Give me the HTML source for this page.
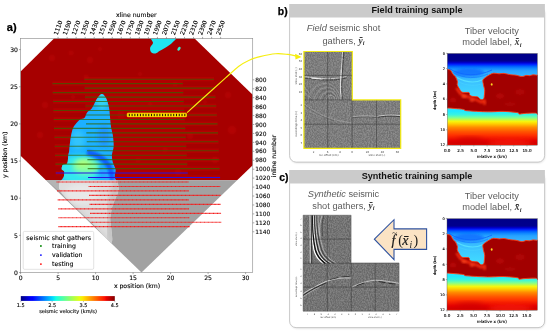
<!DOCTYPE html>
<html lang="en"><head><meta charset="utf-8"><title>Seismic training samples figure</title>
<style>html,body{margin:0;padding:0;background:#fff;overflow:hidden}svg{display:block}text{white-space:pre}</style>
</head><body>
<svg width="550" height="335" viewBox="0 0 550 335">
<defs>
<clipPath id="axc"><rect x="20.6" y="38.5" width="232.1" height="234.0"/></clipPath>
<clipPath id="surv"><path d="M54.0,38.5 L194.6,38.5 L252.7,94.8 L252.7,165.2 L141.5,272.5 L20.6,155.8 L20.6,71.5Z"/></clipPath>
<clipPath id="saltc"><path d="M101.5,94.1 C100.3,94.4 98.9,96.3 97.7,97.8 C96.5,99.3 95.6,101.4 94.6,103.2 C93.6,105.0 92.7,107.2 91.5,108.7 C90.3,110.2 88.5,110.8 87.3,112.3 C86.1,113.8 85.8,116.6 84.6,117.8 C83.4,119.0 81.5,118.5 80.0,119.6 C78.5,120.7 76.7,122.7 75.5,124.2 C74.3,125.7 73.5,126.7 72.8,128.7 C72.0,130.7 71.5,133.3 71.0,136.0 C70.5,138.7 70.0,142.4 69.7,145.0 C69.4,147.6 69.3,149.7 69.1,151.4 C68.8,153.1 68.5,153.0 68.2,155.0 C67.9,157.0 68.2,161.5 67.3,163.2 C66.4,164.9 63.6,163.9 62.7,165.0 C61.8,166.1 61.5,168.5 61.8,169.6 C62.0,170.7 63.9,170.2 64.2,171.4 C64.5,172.6 64.2,175.4 63.7,176.9 C63.2,178.4 61.6,179.7 60.9,180.5 C60.1,181.3 59.6,180.8 59.2,182.0 C58.8,183.2 58.2,186.1 58.6,188.0 C59.0,189.9 59.1,190.3 61.8,193.5 C64.5,196.7 69.7,201.8 75.0,207.0 C80.3,212.2 87.9,219.0 93.9,225.0 C99.9,231.0 108.2,243.0 111.0,243.0 C113.8,243.0 111.1,229.1 111.0,225.0 C110.9,220.9 110.1,221.6 110.3,218.7 C110.5,215.8 111.2,211.0 112.0,207.7 C112.8,204.4 114.2,201.9 115.3,199.0 C116.4,196.1 118.2,193.3 118.6,190.3 C119.0,187.3 117.8,182.6 117.5,181.0 C117.2,179.4 117.0,181.2 116.5,180.5 C116.0,179.8 114.9,178.7 114.7,176.9 C114.5,175.1 115.9,172.0 115.6,169.6 C115.3,167.2 113.4,164.7 112.8,162.3 C112.2,159.9 111.8,157.7 111.9,155.0 C112.1,152.3 113.6,149.2 113.7,145.9 C113.8,142.6 113.2,138.2 112.8,135.0 C112.3,131.8 111.5,129.8 111.0,126.9 C110.5,124.0 110.4,120.8 110.1,117.8 C109.8,114.8 109.7,111.4 109.2,108.7 C108.8,106.0 108.2,103.5 107.4,101.4 C106.6,99.3 105.6,97.2 104.6,96.0 C103.6,94.8 102.7,93.8 101.5,94.1Z"/></clipPath>
<filter id="b1" x="-30%" y="-30%" width="160%" height="160%"><feGaussianBlur stdDeviation="1.2"/></filter>
<filter id="b2" x="-30%" y="-30%" width="160%" height="160%"><feGaussianBlur stdDeviation="2.5"/></filter>
<filter id="b4" x="-30%" y="-30%" width="160%" height="160%"><feGaussianBlur stdDeviation="4"/></filter>
<filter id="b05" x="-30%" y="-30%" width="160%" height="160%"><feGaussianBlur stdDeviation="0.5"/></filter>
<linearGradient id="jet" x1="0" x2="1" y1="0" y2="0"><stop offset="0" stop-color="#000080"/><stop offset="0.11" stop-color="#0000ff"/><stop offset="0.125" stop-color="#0000ff"/><stop offset="0.34" stop-color="#00dcfe"/><stop offset="0.375" stop-color="#16ffe1"/><stop offset="0.5" stop-color="#7dff7a"/><stop offset="0.625" stop-color="#e4ff13"/><stop offset="0.66" stop-color="#ffe600"/><stop offset="0.89" stop-color="#ff1300"/><stop offset="0.91" stop-color="#e80000"/><stop offset="1" stop-color="#800000"/></linearGradient>
<filter id="nz" x="0" y="0" width="100%" height="100%" color-interpolation-filters="sRGB"><feTurbulence type="fractalNoise" baseFrequency="0.95 0.6" numOctaves="2" seed="3" result="t"/><feColorMatrix in="t" type="matrix" values="2.6 0 0 0 -0.82  2.6 0 0 0 -0.82  2.6 0 0 0 -0.82  0 0 0 0 1"/></filter>
</defs>
<rect x="0" y="0" width="550" height="335" fill="#fff"/>
<g clip-path="url(#surv)">
<rect x="20" y="38" width="234" height="142.2" fill="#a60000"/>
<rect x="20" y="180.2" width="234" height="93" fill="#a2a2a2"/>
<circle cx="52" cy="58" r="3" fill="#d01010" opacity="0.3" filter="url(#b1)"/>
<circle cx="71" cy="53" r="2.5" fill="#d01010" opacity="0.3" filter="url(#b1)"/>
<circle cx="90" cy="60" r="3" fill="#d01010" opacity="0.3" filter="url(#b1)"/>
<circle cx="100" cy="49" r="2" fill="#d01010" opacity="0.3" filter="url(#b1)"/>
<circle cx="73" cy="97" r="2" fill="#d01010" opacity="0.3" filter="url(#b1)"/>
<circle cx="121" cy="115" r="3.5" fill="#d01010" opacity="0.3" filter="url(#b1)"/>
<circle cx="150" cy="104" r="2" fill="#d01010" opacity="0.3" filter="url(#b1)"/>
<circle cx="175" cy="84" r="2.5" fill="#d01010" opacity="0.3" filter="url(#b1)"/>
<circle cx="205" cy="102" r="2" fill="#d01010" opacity="0.3" filter="url(#b1)"/>
<circle cx="190" cy="136" r="3" fill="#d01010" opacity="0.3" filter="url(#b1)"/>
<circle cx="165" cy="150" r="2.5" fill="#d01010" opacity="0.3" filter="url(#b1)"/>
<circle cx="232" cy="130" r="4" fill="#d01010" opacity="0.3" filter="url(#b1)"/>
<circle cx="215" cy="160" r="3" fill="#d01010" opacity="0.3" filter="url(#b1)"/>
<circle cx="45" cy="105" r="3" fill="#d01010" opacity="0.3" filter="url(#b1)"/>
<circle cx="40" cy="135" r="3" fill="#d01010" opacity="0.3" filter="url(#b1)"/>
<circle cx="138" cy="160" r="2.5" fill="#d01010" opacity="0.3" filter="url(#b1)"/>
<circle cx="178" cy="172" r="3" fill="#d01010" opacity="0.3" filter="url(#b1)"/>
<circle cx="140" cy="74" r="2" fill="#d01010" opacity="0.3" filter="url(#b1)"/>
<circle cx="86" cy="77" r="2.5" fill="#d01010" opacity="0.3" filter="url(#b1)"/>
<circle cx="228" cy="95" r="3" fill="#d01010" opacity="0.3" filter="url(#b1)"/>
<g filter="url(#b05)">
<line x1="84.3" y1="79.20" x2="214.0" y2="79.20" stroke="#d60000" stroke-opacity="0.3" stroke-width="4.3"/>
<line x1="52.4" y1="83.67" x2="182.8" y2="83.67" stroke="#d60000" stroke-opacity="0.3" stroke-width="4.3"/>
<line x1="84.6" y1="88.14" x2="214.7" y2="88.14" stroke="#d60000" stroke-opacity="0.3" stroke-width="4.3"/>
<line x1="52.7" y1="92.61" x2="183.3" y2="92.61" stroke="#d60000" stroke-opacity="0.3" stroke-width="4.3"/>
<line x1="85.0" y1="97.08" x2="215.4" y2="97.08" stroke="#d60000" stroke-opacity="0.3" stroke-width="4.3"/>
<line x1="53.1" y1="101.55" x2="183.8" y2="101.55" stroke="#d60000" stroke-opacity="0.3" stroke-width="4.3"/>
<line x1="85.3" y1="106.02" x2="216.2" y2="106.02" stroke="#d60000" stroke-opacity="0.3" stroke-width="4.3"/>
<line x1="53.4" y1="110.49" x2="184.3" y2="110.49" stroke="#d60000" stroke-opacity="0.3" stroke-width="4.3"/>
<line x1="85.7" y1="114.96" x2="216.9" y2="114.96" stroke="#d60000" stroke-opacity="0.3" stroke-width="4.3"/>
<line x1="53.7" y1="119.43" x2="184.8" y2="119.43" stroke="#d60000" stroke-opacity="0.3" stroke-width="4.3"/>
<line x1="86.0" y1="123.90" x2="217.6" y2="123.90" stroke="#d60000" stroke-opacity="0.3" stroke-width="4.3"/>
<line x1="54.0" y1="128.37" x2="185.3" y2="128.37" stroke="#d60000" stroke-opacity="0.3" stroke-width="4.3"/>
<line x1="86.3" y1="132.84" x2="218.0" y2="132.84" stroke="#d60000" stroke-opacity="0.3" stroke-width="4.3"/>
<line x1="54.4" y1="137.31" x2="185.8" y2="137.31" stroke="#d60000" stroke-opacity="0.3" stroke-width="4.3"/>
<line x1="86.7" y1="141.78" x2="218.4" y2="141.78" stroke="#d60000" stroke-opacity="0.3" stroke-width="4.3"/>
<line x1="54.7" y1="146.25" x2="186.3" y2="146.25" stroke="#d60000" stroke-opacity="0.3" stroke-width="4.3"/>
<line x1="87.0" y1="150.72" x2="218.8" y2="150.72" stroke="#d60000" stroke-opacity="0.3" stroke-width="4.3"/>
<line x1="55.0" y1="155.19" x2="186.8" y2="155.19" stroke="#d60000" stroke-opacity="0.3" stroke-width="4.3"/>
<line x1="87.4" y1="159.66" x2="219.2" y2="159.66" stroke="#d60000" stroke-opacity="0.3" stroke-width="4.3"/>
<line x1="55.4" y1="164.13" x2="187.3" y2="164.13" stroke="#d60000" stroke-opacity="0.3" stroke-width="4.3"/>
<line x1="87.7" y1="168.60" x2="219.6" y2="168.60" stroke="#d60000" stroke-opacity="0.3" stroke-width="4.3"/>
<line x1="55.7" y1="173.07" x2="187.8" y2="173.07" stroke="#d60000" stroke-opacity="0.3" stroke-width="4.3"/>
<line x1="88.0" y1="177.54" x2="220.1" y2="177.54" stroke="#d60000" stroke-opacity="0.3" stroke-width="4.3"/>
</g>
</g>
<g clip-path="url(#surv)"><g clip-path="url(#saltc)">
<rect x="55" y="90" width="70" height="90.2" fill="#1cb0ff"/>
<ellipse cx="102" cy="100" rx="7" ry="9" fill="#30d4f6" filter="url(#b2)"/>
<ellipse cx="104" cy="136" rx="6" ry="11" fill="#1c92ff" filter="url(#b2)"/>
<ellipse cx="78" cy="140" rx="7" ry="10" fill="#30c4fc" filter="url(#b2)"/>
<ellipse cx="78" cy="170" rx="21" ry="15" fill="#30e8f0" filter="url(#b2)"/>
<ellipse cx="85.5" cy="166.5" rx="13" ry="8" fill="#80ffa8" filter="url(#b2)"/>
<ellipse cx="83" cy="163.5" rx="7" ry="3.5" fill="#b4ff78" filter="url(#b2)"/>
<path d="M87,152.5 C98,154 108,161 111,171 L113,183" stroke="#1060ff" stroke-width="5.5" fill="none" filter="url(#b1)"/>
<path d="M100,168 C104,172 106,177 107,183" stroke="#28a8ff" stroke-width="5" fill="none" filter="url(#b1)"/>
<rect x="40" y="180.2" width="90" height="70" fill="#dedede"/>
<path d="M118,181 L112,205 L110,245" stroke="#c4c4c4" stroke-width="9" fill="none" filter="url(#b2)"/>
<path d="M60,194 L112,247" stroke="#cfcfcf" stroke-width="6" fill="none" filter="url(#b2)"/>
<ellipse cx="82" cy="194" rx="17" ry="10" fill="#e8e8e8" filter="url(#b2)"/>
</g></g>
<path d="M46.5,180.2 L59.5,180.2 L58.6,188 L61.8,193.5 Z" fill="#b4b4b4" clip-path="url(#surv)"/>
<path d="M152.2,37.0 C148.5,38.0 153.3,41.2 153.0,43.0 C152.7,44.8 150.5,46.0 150.2,47.5 C149.9,49.0 150.1,50.9 151.0,51.9 C151.9,52.9 154.0,53.7 155.5,53.5 C157.0,53.3 158.1,51.9 159.9,50.8 C161.7,49.7 164.5,48.2 166.5,46.9 C168.5,45.6 170.6,44.6 172.0,43.0 C173.4,41.4 178.4,38.0 175.1,37.0 C171.8,36.0 155.9,36.0 152.2,37.0Z" fill="#1fe6f2" clip-path="url(#axc)"/>
<ellipse cx="179" cy="48.8" rx="1.3" ry="2.2" transform="rotate(35 179 48.8)" fill="#30f0d0"/>
<line x1="84.3" y1="79.20" x2="214.0" y2="79.20" stroke="#326400" stroke-opacity="0.7" stroke-width="1.1"/>
<line x1="52.4" y1="83.67" x2="182.8" y2="83.67" stroke="#326400" stroke-opacity="0.7" stroke-width="1.1"/>
<line x1="84.6" y1="88.14" x2="214.7" y2="88.14" stroke="#326400" stroke-opacity="0.7" stroke-width="1.1"/>
<line x1="52.7" y1="92.61" x2="183.3" y2="92.61" stroke="#326400" stroke-opacity="0.7" stroke-width="1.1"/>
<line x1="85.0" y1="97.08" x2="215.4" y2="97.08" stroke="#326400" stroke-opacity="0.7" stroke-width="1.1"/>
<line x1="53.1" y1="101.55" x2="183.8" y2="101.55" stroke="#326400" stroke-opacity="0.7" stroke-width="1.1"/>
<line x1="85.3" y1="106.02" x2="216.2" y2="106.02" stroke="#326400" stroke-opacity="0.7" stroke-width="1.1"/>
<line x1="53.4" y1="110.49" x2="184.3" y2="110.49" stroke="#326400" stroke-opacity="0.7" stroke-width="1.1"/>
<line x1="85.7" y1="114.96" x2="216.9" y2="114.96" stroke="#326400" stroke-opacity="0.7" stroke-width="1.1"/>
<line x1="53.7" y1="119.43" x2="184.8" y2="119.43" stroke="#326400" stroke-opacity="0.7" stroke-width="1.1"/>
<line x1="86.0" y1="123.90" x2="217.6" y2="123.90" stroke="#326400" stroke-opacity="0.7" stroke-width="1.1"/>
<line x1="54.0" y1="128.37" x2="185.3" y2="128.37" stroke="#326400" stroke-opacity="0.7" stroke-width="1.1"/>
<line x1="86.3" y1="132.84" x2="218.0" y2="132.84" stroke="#326400" stroke-opacity="0.7" stroke-width="1.1"/>
<line x1="54.4" y1="137.31" x2="185.8" y2="137.31" stroke="#326400" stroke-opacity="0.7" stroke-width="1.1"/>
<line x1="86.7" y1="141.78" x2="218.4" y2="141.78" stroke="#326400" stroke-opacity="0.7" stroke-width="1.1"/>
<line x1="54.7" y1="146.25" x2="186.3" y2="146.25" stroke="#326400" stroke-opacity="0.7" stroke-width="1.1"/>
<line x1="87.0" y1="150.72" x2="218.8" y2="150.72" stroke="#326400" stroke-opacity="0.7" stroke-width="1.1"/>
<line x1="55.0" y1="155.19" x2="186.8" y2="155.19" stroke="#326400" stroke-opacity="0.7" stroke-width="1.1"/>
<line x1="87.4" y1="159.66" x2="219.2" y2="159.66" stroke="#326400" stroke-opacity="0.7" stroke-width="1.1"/>
<line x1="55.4" y1="164.13" x2="187.3" y2="164.13" stroke="#326400" stroke-opacity="0.7" stroke-width="1.1"/>
<line x1="87.7" y1="168.60" x2="219.6" y2="168.60" stroke="#326400" stroke-opacity="0.7" stroke-width="1.1"/>
<line x1="55.7" y1="173.07" x2="187.8" y2="173.07" stroke="#2a10e0" stroke-width="1.05"/>
<line x1="88.0" y1="177.54" x2="220.1" y2="177.54" stroke="#2a10e0" stroke-width="1.05"/>
<line x1="56.5" y1="182.01" x2="188.5" y2="182.01" stroke="#f41a1a" stroke-width="1.2" stroke-dasharray="1.05 0.3"/>
<line x1="88.6" y1="186.48" x2="220.3" y2="186.48" stroke="#f41a1a" stroke-width="1.2" stroke-dasharray="1.05 0.3"/>
<line x1="57.1" y1="190.95" x2="188.8" y2="190.95" stroke="#f41a1a" stroke-width="1.2" stroke-dasharray="1.05 0.3"/>
<line x1="89.1" y1="195.42" x2="220.6" y2="195.42" stroke="#f41a1a" stroke-width="1.2" stroke-dasharray="1.05 0.3"/>
<line x1="57.7" y1="199.89" x2="189.0" y2="199.89" stroke="#f41a1a" stroke-width="1.2" stroke-dasharray="1.05 0.3"/>
<line x1="89.6" y1="204.36" x2="220.8" y2="204.36" stroke="#f41a1a" stroke-width="1.2" stroke-dasharray="1.05 0.3"/>
<line x1="58.3" y1="208.83" x2="189.3" y2="208.83" stroke="#f41a1a" stroke-width="1.2" stroke-dasharray="1.05 0.3"/>
<line x1="90.1" y1="213.30" x2="221.1" y2="213.30" stroke="#f41a1a" stroke-width="1.2" stroke-dasharray="1.05 0.3"/>
<line x1="58.4" y1="217.77" x2="189.6" y2="217.77" stroke="#f41a1a" stroke-width="1.2" stroke-dasharray="1.05 0.3"/>
<line x1="90.6" y1="222.24" x2="221.4" y2="222.24" stroke="#f41a1a" stroke-width="1.2" stroke-dasharray="1.05 0.3"/>
<line x1="58.4" y1="226.71" x2="189.9" y2="226.71" stroke="#f41a1a" stroke-width="1.2" stroke-dasharray="1.05 0.3"/>
<rect x="127.3" y="113.2" width="59.1" height="3.5" rx="0.5" fill="#ffe600" stroke="#ffee00" stroke-width="0.8"/>
<rect x="128.78" y="113.85" width="1.05" height="2.3" fill="#231a00"/>
<rect x="131.56" y="113.85" width="1.05" height="2.3" fill="#231a00"/>
<rect x="134.33" y="113.85" width="1.05" height="2.3" fill="#231a00"/>
<rect x="137.10" y="113.85" width="1.05" height="2.3" fill="#231a00"/>
<rect x="139.88" y="113.85" width="1.05" height="2.3" fill="#231a00"/>
<rect x="142.66" y="113.85" width="1.05" height="2.3" fill="#231a00"/>
<rect x="145.43" y="113.85" width="1.05" height="2.3" fill="#231a00"/>
<rect x="148.21" y="113.85" width="1.05" height="2.3" fill="#231a00"/>
<rect x="150.98" y="113.85" width="1.05" height="2.3" fill="#231a00"/>
<rect x="153.75" y="113.85" width="1.05" height="2.3" fill="#231a00"/>
<rect x="156.53" y="113.85" width="1.05" height="2.3" fill="#231a00"/>
<rect x="159.31" y="113.85" width="1.05" height="2.3" fill="#231a00"/>
<rect x="162.08" y="113.85" width="1.05" height="2.3" fill="#231a00"/>
<rect x="164.85" y="113.85" width="1.05" height="2.3" fill="#231a00"/>
<rect x="167.63" y="113.85" width="1.05" height="2.3" fill="#231a00"/>
<rect x="170.41" y="113.85" width="1.05" height="2.3" fill="#231a00"/>
<rect x="173.18" y="113.85" width="1.05" height="2.3" fill="#231a00"/>
<rect x="175.96" y="113.85" width="1.05" height="2.3" fill="#231a00"/>
<rect x="178.73" y="113.85" width="1.05" height="2.3" fill="#231a00"/>
<rect x="181.50" y="113.85" width="1.05" height="2.3" fill="#231a00"/>
<rect x="184.28" y="113.85" width="1.05" height="2.3" fill="#231a00"/>
<rect x="20.6" y="38.5" width="232.1" height="234.0" fill="none" stroke="#909090" stroke-width="0.65"/>
<line x1="19.0" y1="272.50" x2="20.6" y2="272.50" stroke="#555" stroke-width="0.5"/>
<text x="18.0" y="274.70" text-anchor="end" style="font-family:'DejaVu Sans','Liberation Sans',sans-serif;font-size:6.1px" fill="#000" stroke="#000" stroke-width="0.12">0</text>
<line x1="19.0" y1="235.35" x2="20.6" y2="235.35" stroke="#555" stroke-width="0.5"/>
<text x="18.0" y="237.55" text-anchor="end" style="font-family:'DejaVu Sans','Liberation Sans',sans-serif;font-size:6.1px" fill="#000" stroke="#000" stroke-width="0.12">5</text>
<line x1="19.0" y1="198.20" x2="20.6" y2="198.20" stroke="#555" stroke-width="0.5"/>
<text x="18.0" y="200.40" text-anchor="end" style="font-family:'DejaVu Sans','Liberation Sans',sans-serif;font-size:6.1px" fill="#000" stroke="#000" stroke-width="0.12">10</text>
<line x1="19.0" y1="161.05" x2="20.6" y2="161.05" stroke="#555" stroke-width="0.5"/>
<text x="18.0" y="163.25" text-anchor="end" style="font-family:'DejaVu Sans','Liberation Sans',sans-serif;font-size:6.1px" fill="#000" stroke="#000" stroke-width="0.12">15</text>
<line x1="19.0" y1="123.90" x2="20.6" y2="123.90" stroke="#555" stroke-width="0.5"/>
<text x="18.0" y="126.10" text-anchor="end" style="font-family:'DejaVu Sans','Liberation Sans',sans-serif;font-size:6.1px" fill="#000" stroke="#000" stroke-width="0.12">20</text>
<line x1="19.0" y1="86.75" x2="20.6" y2="86.75" stroke="#555" stroke-width="0.5"/>
<text x="18.0" y="88.95" text-anchor="end" style="font-family:'DejaVu Sans','Liberation Sans',sans-serif;font-size:6.1px" fill="#000" stroke="#000" stroke-width="0.12">25</text>
<line x1="19.0" y1="49.60" x2="20.6" y2="49.60" stroke="#555" stroke-width="0.5"/>
<text x="18.0" y="51.80" text-anchor="end" style="font-family:'DejaVu Sans','Liberation Sans',sans-serif;font-size:6.1px" fill="#000" stroke="#000" stroke-width="0.12">30</text>
<line x1="20.60" y1="272.5" x2="20.60" y2="274.1" stroke="#555" stroke-width="0.5"/>
<text x="20.60" y="280.0" text-anchor="middle" style="font-family:'DejaVu Sans','Liberation Sans',sans-serif;font-size:6.1px" fill="#000" stroke="#000" stroke-width="0.12">0</text>
<line x1="58.10" y1="272.5" x2="58.10" y2="274.1" stroke="#555" stroke-width="0.5"/>
<text x="58.10" y="280.0" text-anchor="middle" style="font-family:'DejaVu Sans','Liberation Sans',sans-serif;font-size:6.1px" fill="#000" stroke="#000" stroke-width="0.12">5</text>
<line x1="95.60" y1="272.5" x2="95.60" y2="274.1" stroke="#555" stroke-width="0.5"/>
<text x="95.60" y="280.0" text-anchor="middle" style="font-family:'DejaVu Sans','Liberation Sans',sans-serif;font-size:6.1px" fill="#000" stroke="#000" stroke-width="0.12">10</text>
<line x1="133.10" y1="272.5" x2="133.10" y2="274.1" stroke="#555" stroke-width="0.5"/>
<text x="133.10" y="280.0" text-anchor="middle" style="font-family:'DejaVu Sans','Liberation Sans',sans-serif;font-size:6.1px" fill="#000" stroke="#000" stroke-width="0.12">15</text>
<line x1="170.60" y1="272.5" x2="170.60" y2="274.1" stroke="#555" stroke-width="0.5"/>
<text x="170.60" y="280.0" text-anchor="middle" style="font-family:'DejaVu Sans','Liberation Sans',sans-serif;font-size:6.1px" fill="#000" stroke="#000" stroke-width="0.12">20</text>
<line x1="208.10" y1="272.5" x2="208.10" y2="274.1" stroke="#555" stroke-width="0.5"/>
<text x="208.10" y="280.0" text-anchor="middle" style="font-family:'DejaVu Sans','Liberation Sans',sans-serif;font-size:6.1px" fill="#000" stroke="#000" stroke-width="0.12">25</text>
<line x1="245.60" y1="272.5" x2="245.60" y2="274.1" stroke="#555" stroke-width="0.5"/>
<text x="245.60" y="280.0" text-anchor="middle" style="font-family:'DejaVu Sans','Liberation Sans',sans-serif;font-size:6.1px" fill="#000" stroke="#000" stroke-width="0.12">30</text>
<text x="137" y="287.9" text-anchor="middle" style="font-family:'DejaVu Sans','Liberation Sans',sans-serif;font-size:6.15px" fill="#000" stroke="#000" stroke-width="0.12">x position (km)</text>
<text transform="translate(7.3 154.8) rotate(-90)" text-anchor="middle" style="font-family:'DejaVu Sans','Liberation Sans',sans-serif;font-size:6.2px" fill="#000" stroke="#000" stroke-width="0.12">y position (km)</text>
<line x1="58.10" y1="36.9" x2="58.10" y2="38.5" stroke="#555" stroke-width="0.5"/>
<text transform="translate(60.00 28.5) rotate(-70)" text-anchor="middle" style="font-family:'DejaVu Sans','Liberation Sans',sans-serif;font-size:5.9px" fill="#000" stroke="#000" stroke-width="0.12">1110</text>
<line x1="67.13" y1="36.9" x2="67.13" y2="38.5" stroke="#555" stroke-width="0.5"/>
<text transform="translate(69.03 28.5) rotate(-70)" text-anchor="middle" style="font-family:'DejaVu Sans','Liberation Sans',sans-serif;font-size:5.9px" fill="#000" stroke="#000" stroke-width="0.12">1190</text>
<line x1="76.16" y1="36.9" x2="76.16" y2="38.5" stroke="#555" stroke-width="0.5"/>
<text transform="translate(78.06 28.5) rotate(-70)" text-anchor="middle" style="font-family:'DejaVu Sans','Liberation Sans',sans-serif;font-size:5.9px" fill="#000" stroke="#000" stroke-width="0.12">1270</text>
<line x1="85.19" y1="36.9" x2="85.19" y2="38.5" stroke="#555" stroke-width="0.5"/>
<text transform="translate(87.09 28.5) rotate(-70)" text-anchor="middle" style="font-family:'DejaVu Sans','Liberation Sans',sans-serif;font-size:5.9px" fill="#000" stroke="#000" stroke-width="0.12">1350</text>
<line x1="94.22" y1="36.9" x2="94.22" y2="38.5" stroke="#555" stroke-width="0.5"/>
<text transform="translate(96.12 28.5) rotate(-70)" text-anchor="middle" style="font-family:'DejaVu Sans','Liberation Sans',sans-serif;font-size:5.9px" fill="#000" stroke="#000" stroke-width="0.12">1430</text>
<line x1="103.25" y1="36.9" x2="103.25" y2="38.5" stroke="#555" stroke-width="0.5"/>
<text transform="translate(105.15 28.5) rotate(-70)" text-anchor="middle" style="font-family:'DejaVu Sans','Liberation Sans',sans-serif;font-size:5.9px" fill="#000" stroke="#000" stroke-width="0.12">1510</text>
<line x1="112.28" y1="36.9" x2="112.28" y2="38.5" stroke="#555" stroke-width="0.5"/>
<text transform="translate(114.18 28.5) rotate(-70)" text-anchor="middle" style="font-family:'DejaVu Sans','Liberation Sans',sans-serif;font-size:5.9px" fill="#000" stroke="#000" stroke-width="0.12">1590</text>
<line x1="121.31" y1="36.9" x2="121.31" y2="38.5" stroke="#555" stroke-width="0.5"/>
<text transform="translate(123.21 28.5) rotate(-70)" text-anchor="middle" style="font-family:'DejaVu Sans','Liberation Sans',sans-serif;font-size:5.9px" fill="#000" stroke="#000" stroke-width="0.12">1670</text>
<line x1="130.34" y1="36.9" x2="130.34" y2="38.5" stroke="#555" stroke-width="0.5"/>
<text transform="translate(132.24 28.5) rotate(-70)" text-anchor="middle" style="font-family:'DejaVu Sans','Liberation Sans',sans-serif;font-size:5.9px" fill="#000" stroke="#000" stroke-width="0.12">1750</text>
<line x1="139.37" y1="36.9" x2="139.37" y2="38.5" stroke="#555" stroke-width="0.5"/>
<text transform="translate(141.27 28.5) rotate(-70)" text-anchor="middle" style="font-family:'DejaVu Sans','Liberation Sans',sans-serif;font-size:5.9px" fill="#000" stroke="#000" stroke-width="0.12">1830</text>
<line x1="148.40" y1="36.9" x2="148.40" y2="38.5" stroke="#555" stroke-width="0.5"/>
<text transform="translate(150.30 28.5) rotate(-70)" text-anchor="middle" style="font-family:'DejaVu Sans','Liberation Sans',sans-serif;font-size:5.9px" fill="#000" stroke="#000" stroke-width="0.12">1910</text>
<line x1="157.43" y1="36.9" x2="157.43" y2="38.5" stroke="#555" stroke-width="0.5"/>
<text transform="translate(159.33 28.5) rotate(-70)" text-anchor="middle" style="font-family:'DejaVu Sans','Liberation Sans',sans-serif;font-size:5.9px" fill="#000" stroke="#000" stroke-width="0.12">1990</text>
<line x1="166.46" y1="36.9" x2="166.46" y2="38.5" stroke="#555" stroke-width="0.5"/>
<text transform="translate(168.36 28.5) rotate(-70)" text-anchor="middle" style="font-family:'DejaVu Sans','Liberation Sans',sans-serif;font-size:5.9px" fill="#000" stroke="#000" stroke-width="0.12">2070</text>
<line x1="175.49" y1="36.9" x2="175.49" y2="38.5" stroke="#555" stroke-width="0.5"/>
<text transform="translate(177.39 28.5) rotate(-70)" text-anchor="middle" style="font-family:'DejaVu Sans','Liberation Sans',sans-serif;font-size:5.9px" fill="#000" stroke="#000" stroke-width="0.12">2150</text>
<line x1="184.52" y1="36.9" x2="184.52" y2="38.5" stroke="#555" stroke-width="0.5"/>
<text transform="translate(186.42 28.5) rotate(-70)" text-anchor="middle" style="font-family:'DejaVu Sans','Liberation Sans',sans-serif;font-size:5.9px" fill="#000" stroke="#000" stroke-width="0.12">2230</text>
<line x1="193.55" y1="36.9" x2="193.55" y2="38.5" stroke="#555" stroke-width="0.5"/>
<text transform="translate(195.45 28.5) rotate(-70)" text-anchor="middle" style="font-family:'DejaVu Sans','Liberation Sans',sans-serif;font-size:5.9px" fill="#000" stroke="#000" stroke-width="0.12">2310</text>
<line x1="202.58" y1="36.9" x2="202.58" y2="38.5" stroke="#555" stroke-width="0.5"/>
<text transform="translate(204.48 28.5) rotate(-70)" text-anchor="middle" style="font-family:'DejaVu Sans','Liberation Sans',sans-serif;font-size:5.9px" fill="#000" stroke="#000" stroke-width="0.12">2390</text>
<line x1="211.61" y1="36.9" x2="211.61" y2="38.5" stroke="#555" stroke-width="0.5"/>
<text transform="translate(213.51 28.5) rotate(-70)" text-anchor="middle" style="font-family:'DejaVu Sans','Liberation Sans',sans-serif;font-size:5.9px" fill="#000" stroke="#000" stroke-width="0.12">2470</text>
<line x1="220.64" y1="36.9" x2="220.64" y2="38.5" stroke="#555" stroke-width="0.5"/>
<text transform="translate(222.54 28.5) rotate(-70)" text-anchor="middle" style="font-family:'DejaVu Sans','Liberation Sans',sans-serif;font-size:5.9px" fill="#000" stroke="#000" stroke-width="0.12">2550</text>
<text x="136.3" y="17.2" text-anchor="middle" style="font-family:'DejaVu Sans','Liberation Sans',sans-serif;font-size:6.15px" fill="#000" stroke="#000" stroke-width="0.12">xline number</text>
<line x1="252.7" y1="79.80" x2="254.3" y2="79.80" stroke="#555" stroke-width="0.5"/>
<text x="255.3" y="81.95" style="font-family:'DejaVu Sans','Liberation Sans',sans-serif;font-size:5.9px" fill="#000" stroke="#000" stroke-width="0.12">800</text>
<line x1="252.7" y1="88.74" x2="254.3" y2="88.74" stroke="#555" stroke-width="0.5"/>
<text x="255.3" y="90.89" style="font-family:'DejaVu Sans','Liberation Sans',sans-serif;font-size:5.9px" fill="#000" stroke="#000" stroke-width="0.12">820</text>
<line x1="252.7" y1="97.68" x2="254.3" y2="97.68" stroke="#555" stroke-width="0.5"/>
<text x="255.3" y="99.83" style="font-family:'DejaVu Sans','Liberation Sans',sans-serif;font-size:5.9px" fill="#000" stroke="#000" stroke-width="0.12">840</text>
<line x1="252.7" y1="106.62" x2="254.3" y2="106.62" stroke="#555" stroke-width="0.5"/>
<text x="255.3" y="108.77" style="font-family:'DejaVu Sans','Liberation Sans',sans-serif;font-size:5.9px" fill="#000" stroke="#000" stroke-width="0.12">860</text>
<line x1="252.7" y1="115.56" x2="254.3" y2="115.56" stroke="#555" stroke-width="0.5"/>
<text x="255.3" y="117.71" style="font-family:'DejaVu Sans','Liberation Sans',sans-serif;font-size:5.9px" fill="#000" stroke="#000" stroke-width="0.12">880</text>
<line x1="252.7" y1="124.50" x2="254.3" y2="124.50" stroke="#555" stroke-width="0.5"/>
<text x="255.3" y="126.65" style="font-family:'DejaVu Sans','Liberation Sans',sans-serif;font-size:5.9px" fill="#000" stroke="#000" stroke-width="0.12">900</text>
<line x1="252.7" y1="133.44" x2="254.3" y2="133.44" stroke="#555" stroke-width="0.5"/>
<text x="255.3" y="135.59" style="font-family:'DejaVu Sans','Liberation Sans',sans-serif;font-size:5.9px" fill="#000" stroke="#000" stroke-width="0.12">920</text>
<line x1="252.7" y1="142.38" x2="254.3" y2="142.38" stroke="#555" stroke-width="0.5"/>
<text x="255.3" y="144.53" style="font-family:'DejaVu Sans','Liberation Sans',sans-serif;font-size:5.9px" fill="#000" stroke="#000" stroke-width="0.12">940</text>
<line x1="252.7" y1="151.32" x2="254.3" y2="151.32" stroke="#555" stroke-width="0.5"/>
<text x="255.3" y="153.47" style="font-family:'DejaVu Sans','Liberation Sans',sans-serif;font-size:5.9px" fill="#000" stroke="#000" stroke-width="0.12">960</text>
<line x1="252.7" y1="160.26" x2="254.3" y2="160.26" stroke="#555" stroke-width="0.5"/>
<text x="255.3" y="162.41" style="font-family:'DejaVu Sans','Liberation Sans',sans-serif;font-size:5.9px" fill="#000" stroke="#000" stroke-width="0.12">980</text>
<line x1="252.7" y1="169.20" x2="254.3" y2="169.20" stroke="#555" stroke-width="0.5"/>
<text x="255.3" y="171.35" style="font-family:'DejaVu Sans','Liberation Sans',sans-serif;font-size:5.9px" fill="#000" stroke="#000" stroke-width="0.12">1000</text>
<line x1="252.7" y1="178.14" x2="254.3" y2="178.14" stroke="#555" stroke-width="0.5"/>
<text x="255.3" y="180.29" style="font-family:'DejaVu Sans','Liberation Sans',sans-serif;font-size:5.9px" fill="#000" stroke="#000" stroke-width="0.12">1020</text>
<line x1="252.7" y1="187.08" x2="254.3" y2="187.08" stroke="#555" stroke-width="0.5"/>
<text x="255.3" y="189.23" style="font-family:'DejaVu Sans','Liberation Sans',sans-serif;font-size:5.9px" fill="#000" stroke="#000" stroke-width="0.12">1040</text>
<line x1="252.7" y1="196.02" x2="254.3" y2="196.02" stroke="#555" stroke-width="0.5"/>
<text x="255.3" y="198.17" style="font-family:'DejaVu Sans','Liberation Sans',sans-serif;font-size:5.9px" fill="#000" stroke="#000" stroke-width="0.12">1060</text>
<line x1="252.7" y1="204.96" x2="254.3" y2="204.96" stroke="#555" stroke-width="0.5"/>
<text x="255.3" y="207.11" style="font-family:'DejaVu Sans','Liberation Sans',sans-serif;font-size:5.9px" fill="#000" stroke="#000" stroke-width="0.12">1080</text>
<line x1="252.7" y1="213.90" x2="254.3" y2="213.90" stroke="#555" stroke-width="0.5"/>
<text x="255.3" y="216.05" style="font-family:'DejaVu Sans','Liberation Sans',sans-serif;font-size:5.9px" fill="#000" stroke="#000" stroke-width="0.12">1100</text>
<line x1="252.7" y1="222.84" x2="254.3" y2="222.84" stroke="#555" stroke-width="0.5"/>
<text x="255.3" y="224.99" style="font-family:'DejaVu Sans','Liberation Sans',sans-serif;font-size:5.9px" fill="#000" stroke="#000" stroke-width="0.12">1120</text>
<line x1="252.7" y1="231.78" x2="254.3" y2="231.78" stroke="#555" stroke-width="0.5"/>
<text x="255.3" y="233.93" style="font-family:'DejaVu Sans','Liberation Sans',sans-serif;font-size:5.9px" fill="#000" stroke="#000" stroke-width="0.12">1140</text>
<text transform="translate(276 156) rotate(-90)" text-anchor="middle" style="font-family:'DejaVu Sans','Liberation Sans',sans-serif;font-size:6.15px" fill="#000" stroke="#000" stroke-width="0.12">inline number</text>
<rect x="23.2" y="231.4" width="70.5" height="37.9" rx="1.3" fill="#fff" fill-opacity="0.85" stroke="#d0d0d0" stroke-width="0.6"/>
<text x="26.3" y="239.5" style="font-family:'DejaVu Sans','Liberation Sans',sans-serif;font-size:6.26px" fill="#000" stroke="#000" stroke-width="0.12">seismic shot gathers</text>
<circle cx="40.9" cy="246.0" r="0.95" fill="#0a8a0a"/>
<text x="52" y="248.2" style="font-family:'DejaVu Sans','Liberation Sans',sans-serif;font-size:6.2px" fill="#000" stroke="#000" stroke-width="0.12">training</text>
<circle cx="40.9" cy="255.1" r="0.95" fill="#1010ff"/>
<text x="52" y="257.2" style="font-family:'DejaVu Sans','Liberation Sans',sans-serif;font-size:6.2px" fill="#000" stroke="#000" stroke-width="0.12">validation</text>
<circle cx="40.9" cy="264.1" r="0.95" fill="#ff1010"/>
<text x="52" y="266.3" style="font-family:'DejaVu Sans','Liberation Sans',sans-serif;font-size:6.2px" fill="#000" stroke="#000" stroke-width="0.12">testing</text>
<rect x="20.8" y="296.1" width="94" height="4.8" fill="url(#jet)"/>
<line x1="20.80" y1="300.9" x2="20.80" y2="302.1" stroke="#555" stroke-width="0.4"/>
<text x="20.80" y="307" text-anchor="middle" style="font-family:'DejaVu Sans','Liberation Sans',sans-serif;font-size:5px" fill="#000" stroke="#000" stroke-width="0.12">1.5</text>
<line x1="52.13" y1="300.9" x2="52.13" y2="302.1" stroke="#555" stroke-width="0.4"/>
<text x="52.13" y="307" text-anchor="middle" style="font-family:'DejaVu Sans','Liberation Sans',sans-serif;font-size:5px" fill="#000" stroke="#000" stroke-width="0.12">2.5</text>
<line x1="83.46" y1="300.9" x2="83.46" y2="302.1" stroke="#555" stroke-width="0.4"/>
<text x="83.46" y="307" text-anchor="middle" style="font-family:'DejaVu Sans','Liberation Sans',sans-serif;font-size:5px" fill="#000" stroke="#000" stroke-width="0.12">3.5</text>
<line x1="114.79" y1="300.9" x2="114.79" y2="302.1" stroke="#555" stroke-width="0.4"/>
<text x="114.79" y="307" text-anchor="middle" style="font-family:'DejaVu Sans','Liberation Sans',sans-serif;font-size:5px" fill="#000" stroke="#000" stroke-width="0.12">4.5</text>
<text x="68" y="312.6" text-anchor="middle" style="font-family:'DejaVu Sans','Liberation Sans',sans-serif;font-size:5.04px" fill="#000" stroke="#000" stroke-width="0.12">seismic velocity (km/s)</text>
<text x="6.8" y="31.1" style="font-family:'Liberation Sans',sans-serif;font-size:11px;font-weight:bold" fill="#000" stroke="#000" stroke-width="0.25">a)</text>
<rect x="290.4" y="7.3" width="254.6" height="155.6" rx="6.5" fill="#000" opacity="0.13" filter="url(#b1)"/>
<rect x="289.6" y="6.1" width="255" height="156.0" rx="6.5" fill="#fff" stroke="#bdbdbd" stroke-width="0.8"/>
<path d="M289.2,4.1 H544.9 V17.6 H289.2Z" fill="#cbcbcb"/>
<text x="417" y="13.3" text-anchor="middle" style="font-family:'Liberation Sans',sans-serif;font-size:9.1px;font-weight:bold" fill="#111">Field training sample</text>
<text x="277.8" y="14.7" style="font-family:'Liberation Sans',sans-serif;font-size:10.4px;font-weight:bold" fill="#000" stroke="#000" stroke-width="0.25">b)</text>
<rect x="290.4" y="173.2" width="254.6" height="155.2" rx="6.5" fill="#000" opacity="0.13" filter="url(#b1)"/>
<rect x="289.6" y="172.0" width="255" height="155.6" rx="6.5" fill="#fff" stroke="#bdbdbd" stroke-width="0.8"/>
<path d="M289.2,170.0 H544.9 V183.6 H289.2Z" fill="#cbcbcb"/>
<text x="417" y="179.2" text-anchor="middle" style="font-family:'Liberation Sans',sans-serif;font-size:9.1px;font-weight:bold" fill="#111">Synthetic training sample</text>
<text x="279.2" y="180.6" style="font-family:'Liberation Sans',sans-serif;font-size:10.4px;font-weight:bold" fill="#000" stroke="#000" stroke-width="0.25">c)</text>
<path d="M187.0,112.7 C190.2,109.8 199.6,101.2 206.0,95.5 C212.4,89.8 219.9,83.0 225.3,78.2 C230.7,73.4 234.6,69.5 238.5,66.5 C242.4,63.5 245.1,62.0 248.7,60.4 C252.3,58.8 255.5,57.7 260.0,56.6 C264.5,55.5 270.9,54.1 275.6,53.7 C280.3,53.3 284.4,54.0 288.0,54.4 C291.6,54.8 295.9,56.0 297.5,56.3" fill="none" stroke="#f6ee10" stroke-width="1.1"/>
<path d="M301.6,56.9 L295.5,59.4 L295.1,53.8 Z" fill="#f6ee10"/>
<text x="343.5" y="31.2" text-anchor="middle" style="font-family:'Liberation Sans',sans-serif;font-size:9.25px" fill="#5c5c5c"><tspan font-style="italic">Field</tspan> seismic shot</text>
<text x="343.5" y="43.5" text-anchor="middle" style="font-family:'Liberation Sans',sans-serif;font-size:9.25px" fill="#5c5c5c">gathers, <tspan style="font-family:'Liberation Serif',serif;font-style:italic;font-weight:bold;font-size:9.4px" fill="#3a3a3a">y</tspan><tspan style="font-family:'Liberation Serif',serif;font-style:italic;font-weight:bold;font-size:9.4px" dx="-3.47" dy="0.3" fill="#3a3a3a">ˉ</tspan><tspan style="font-family:'Liberation Serif',serif;font-style:italic;font-weight:bold;font-size:6.4px" dx="0.64" dy="1.3" fill="#3a3a3a">i</tspan></text>
<text x="491.8" y="34.0" text-anchor="middle" style="font-family:'Liberation Sans',sans-serif;font-size:9.25px" fill="#5c5c5c">Tiber velocity</text>
<text x="491.8" y="45.0" text-anchor="middle" style="font-family:'Liberation Sans',sans-serif;font-size:9.25px" fill="#5c5c5c">model label, <tspan style="font-family:'Liberation Serif',serif;font-style:italic;font-weight:bold;font-size:9.4px" fill="#3a3a3a">x</tspan><tspan style="font-family:'Liberation Serif',serif;font-style:italic;font-weight:bold;font-size:9.4px" dx="-4.00" dy="0.3" fill="#3a3a3a">ˉ</tspan><tspan style="font-family:'Liberation Serif',serif;font-style:italic;font-weight:bold;font-size:6.4px" dx="1.17" dy="1.3" fill="#3a3a3a">i</tspan></text>
<text x="343.5" y="197.0" text-anchor="middle" style="font-family:'Liberation Sans',sans-serif;font-size:9.25px" fill="#5c5c5c"><tspan font-style="italic">Synthetic</tspan> seismic</text>
<text x="343.5" y="208.6" text-anchor="middle" style="font-family:'Liberation Sans',sans-serif;font-size:9.25px" fill="#5c5c5c">shot gathers, <tspan style="font-family:'Liberation Serif',serif;font-style:italic;font-weight:bold;font-size:9.4px" fill="#3a3a3a">y</tspan><tspan style="font-family:'Liberation Serif',serif;font-style:italic;font-weight:bold;font-size:9.4px" dx="-3.47" dy="0.3" fill="#3a3a3a">ˉ</tspan><tspan style="font-family:'Liberation Serif',serif;font-style:italic;font-weight:bold;font-size:6.4px" dx="0.64" dy="1.3" fill="#3a3a3a">i</tspan></text>
<text x="491.8" y="198.8" text-anchor="middle" style="font-family:'Liberation Sans',sans-serif;font-size:9.25px" fill="#5c5c5c">Tiber velocity</text>
<text x="491.8" y="210.3" text-anchor="middle" style="font-family:'Liberation Sans',sans-serif;font-size:9.25px" fill="#5c5c5c">model label, <tspan style="font-family:'Liberation Serif',serif;font-style:italic;font-weight:bold;font-size:9.4px" fill="#3a3a3a">x</tspan><tspan style="font-family:'Liberation Serif',serif;font-style:italic;font-weight:bold;font-size:9.4px" dx="-4.00" dy="0.3" fill="#3a3a3a">ˉ</tspan><tspan style="font-family:'Liberation Serif',serif;font-style:italic;font-weight:bold;font-size:6.4px" dx="1.17" dy="1.3" fill="#3a3a3a">i</tspan></text>
<clipPath id="gbc"><path d="M303.9,51.5 H352.3 V99.9 H400.7 V148.3 H303.9Z"/></clipPath>
<path d="M303.9,51.5 H352.3 V99.9 H400.7 V148.3 H303.9Z" fill="#7e7e7e"/>
<g clip-path="url(#gbc)">
<rect x="303.9" y="51.5" width="96.8" height="96.8" filter="url(#nz)" opacity="0.11"/>
<g fill="none" stroke-linecap="round" filter="url(#b05)" opacity="0.85">
<path d="M305,76.8 C312,77.5 318,78.2 324,78.6 C332,79 340,78 346,76.6" stroke="#e8e8e8" stroke-width="0.8" stroke-dasharray="4 1.2 2 1.5"/>
<path d="M305,78.2 C312,78.9 318,79.6 324,80 C332,80.4 340,79.4 346,78" stroke="#262626" stroke-width="0.8" stroke-dasharray="3 1.6 2.4 1.2"/>
<path d="M312,78.2 L322,79" stroke="#ffffff" stroke-width="1.2"/>
<path d="M342.6,52 C342,60 341.4,68 341,75 C340.4,82 340,88 341,99" stroke="#e6e6e6" stroke-width="0.9" stroke-dasharray="5 1.5 8 1"/>
<path d="M343.9,52 C343.3,60 342.7,68 342.3,75 C341.7,82 341.3,88 342.3,99" stroke="#2a2a2a" stroke-width="0.8" stroke-dasharray="7 1.5 4 1"/>
<path d="M341.2,70 C340.6,80 340.2,88 341,97" stroke="#f4f4f4" stroke-width="0.9"/>
<path d="M326.0,100 C327.4,93.7 334.4,93.7 335.1,100" stroke="#cfcfcf" stroke-width="0.55" opacity="0.75"/>
<path d="M323.0,100 C325.0,91.0 335.0,91.0 336.0,100" stroke="#444" stroke-width="0.55" opacity="0.75"/>
<path d="M320.0,100 C322.6,88.3 335.6,88.3 336.9,100" stroke="#c8c8c8" stroke-width="0.55" opacity="0.75"/>
<path d="M317.0,100 C320.2,85.6 336.2,85.6 337.8,100" stroke="#4c4c4c" stroke-width="0.55" opacity="0.75"/>
<path d="M314.0,100 C317.8,82.9 336.8,82.9 338.7,100" stroke="#c0c0c0" stroke-width="0.55" opacity="0.75"/>
<path d="M311.0,100 C315.4,80.2 337.4,80.2 339.6,100" stroke="#565656" stroke-width="0.55" opacity="0.75"/>
<path d="M308.0,100 C313.0,77.5 338.0,77.5 340.5,100" stroke="#b8b8b8" stroke-width="0.55" opacity="0.75"/>
<path d="M305.0,100 C310.6,74.8 338.6,74.8 341.4,100" stroke="#5e5e5e" stroke-width="0.55" opacity="0.75"/>
<path d="M304,84.0 C308,88.0 311,94.0 313,100" stroke="#4a4a4a" stroke-width="0.5" opacity="0.7"/>
<path d="M304,87.0 C308,90.4 311,95.2 313,100" stroke="#c8c8c8" stroke-width="0.5" opacity="0.7"/>
<path d="M304,90.0 C308,92.8 311,96.4 313,100" stroke="#4a4a4a" stroke-width="0.5" opacity="0.7"/>
<path d="M304,93.0 C308,95.2 311,97.6 313,100" stroke="#c8c8c8" stroke-width="0.5" opacity="0.7"/>
<path d="M304,96.0 C308,97.6 311,98.8 313,100" stroke="#4a4a4a" stroke-width="0.5" opacity="0.7"/>
<path d="M304,104 C312,110 322,116 334,119.5 C340,121 348,122.5 352,123" stroke="#cfcfcf" stroke-width="0.5" opacity="0.7"/>
<path d="M304,105.3 C312,111.3 322,117.3 334,120.8" stroke="#444" stroke-width="0.5" opacity="0.7"/>
<path d="M304,108 C310,112 316,115 322,117" stroke="#c4c4c4" stroke-width="0.4" opacity="0.7"/>
<path d="M353,116.6 C362,115.5 370,115.9 376,116.3" stroke="#d8d8d8" stroke-width="0.6"/>
<path d="M353,117.7 C362,116.6 370,117 376,117.4" stroke="#3a3a3a" stroke-width="0.5"/>
<path d="M378,116.2 C384,115 392,114.8 400,115.6" stroke="#ececec" stroke-width="0.8" stroke-dasharray="3 0.8 2 0.6"/>
<path d="M378,117.3 C384,116.1 392,115.9 400,116.7" stroke="#1e1e1e" stroke-width="0.8" stroke-dasharray="2.4 1 3 0.8"/>
</g>
</g>
<line x1="327.7" y1="51.5" x2="327.7" y2="148.3" stroke="#2c2c2c" stroke-width="0.45"/>
<line x1="352.1" y1="99.9" x2="352.1" y2="148.3" stroke="#2c2c2c" stroke-width="0.45"/>
<line x1="376.5" y1="99.9" x2="376.5" y2="148.3" stroke="#2c2c2c" stroke-width="0.45"/>
<line x1="303.9" y1="75.4" x2="352.3" y2="75.4" stroke="#2c2c2c" stroke-width="0.45"/>
<line x1="303.9" y1="99.9" x2="352.3" y2="99.9" stroke="#2c2c2c" stroke-width="0.45"/>
<line x1="303.9" y1="124.2" x2="400.7" y2="124.2" stroke="#2c2c2c" stroke-width="0.45"/>
<path d="M303.9,51.5 H352.3 V99.9 H400.7 V148.3 H303.9Z" fill="none" stroke="#f2ea12" stroke-width="1.2"/>
<text x="302.2" y="54.6" text-anchor="end" style="font-family:'DejaVu Sans','Liberation Sans',sans-serif;font-size:2.7px" fill="#444">60</text>
<text x="302.2" y="62.3" text-anchor="end" style="font-family:'DejaVu Sans','Liberation Sans',sans-serif;font-size:2.7px" fill="#444">50</text>
<text x="302.2" y="70.0" text-anchor="end" style="font-family:'DejaVu Sans','Liberation Sans',sans-serif;font-size:2.7px" fill="#444">40</text>
<text x="302.2" y="77.7" text-anchor="end" style="font-family:'DejaVu Sans','Liberation Sans',sans-serif;font-size:2.7px" fill="#444">30</text>
<text x="302.2" y="85.4" text-anchor="end" style="font-family:'DejaVu Sans','Liberation Sans',sans-serif;font-size:2.7px" fill="#444">20</text>
<text x="302.2" y="93.1" text-anchor="end" style="font-family:'DejaVu Sans','Liberation Sans',sans-serif;font-size:2.7px" fill="#444">10</text>
<text x="302.2" y="106.0" text-anchor="end" style="font-family:'DejaVu Sans','Liberation Sans',sans-serif;font-size:2.7px" fill="#444">2</text>
<text x="302.2" y="113.6" text-anchor="end" style="font-family:'DejaVu Sans','Liberation Sans',sans-serif;font-size:2.7px" fill="#444">3</text>
<text x="302.2" y="121.2" text-anchor="end" style="font-family:'DejaVu Sans','Liberation Sans',sans-serif;font-size:2.7px" fill="#444">4</text>
<text x="302.2" y="128.8" text-anchor="end" style="font-family:'DejaVu Sans','Liberation Sans',sans-serif;font-size:2.7px" fill="#444">5</text>
<text x="302.2" y="136.4" text-anchor="end" style="font-family:'DejaVu Sans','Liberation Sans',sans-serif;font-size:2.7px" fill="#444">6</text>
<text x="302.2" y="144.0" text-anchor="end" style="font-family:'DejaVu Sans','Liberation Sans',sans-serif;font-size:2.7px" fill="#444">7</text>
<text transform="translate(296.5 76.0) rotate(-90)" text-anchor="middle" style="font-family:'DejaVu Sans','Liberation Sans',sans-serif;font-size:2.7px" fill="#444">xline shot (-)</text>
<text transform="translate(296.5 124.0) rotate(-90)" text-anchor="middle" style="font-family:'DejaVu Sans','Liberation Sans',sans-serif;font-size:2.7px" fill="#444">recordings time (s)</text>
<text x="313.5" y="152.6" text-anchor="middle" style="font-family:'DejaVu Sans','Liberation Sans',sans-serif;font-size:2.7px" fill="#444">2</text>
<text x="327.6" y="152.6" text-anchor="middle" style="font-family:'DejaVu Sans','Liberation Sans',sans-serif;font-size:2.7px" fill="#444">6</text>
<text x="340.0" y="152.6" text-anchor="middle" style="font-family:'DejaVu Sans','Liberation Sans',sans-serif;font-size:2.7px" fill="#444">8</text>
<text x="352.2" y="152.6" text-anchor="middle" style="font-family:'DejaVu Sans','Liberation Sans',sans-serif;font-size:2.7px" fill="#444">0</text>
<text x="367.5" y="152.6" text-anchor="middle" style="font-family:'DejaVu Sans','Liberation Sans',sans-serif;font-size:2.7px" fill="#444">20</text>
<text x="382.5" y="152.6" text-anchor="middle" style="font-family:'DejaVu Sans','Liberation Sans',sans-serif;font-size:2.7px" fill="#444">40</text>
<text x="397.5" y="152.6" text-anchor="middle" style="font-family:'DejaVu Sans','Liberation Sans',sans-serif;font-size:2.7px" fill="#444">60</text>
<text x="328.6" y="156.3" text-anchor="middle" style="font-family:'DejaVu Sans','Liberation Sans',sans-serif;font-size:2.7px" fill="#444">rec offset (km)</text>
<text x="376.9" y="156.3" text-anchor="middle" style="font-family:'DejaVu Sans','Liberation Sans',sans-serif;font-size:2.7px" fill="#444">xline shot (-)</text>
<rect x="296" y="212" width="107" height="108" fill="#fff"/>
<clipPath id="gcc"><path d="M303.1,215.2 H351.1 V263.2 H399.1 V311.2 H303.1Z"/></clipPath>
<path d="M303.1,215.2 H351.1 V263.2 H399.1 V311.2 H303.1Z" fill="#747474"/>
<g clip-path="url(#gcc)">
<rect x="303.1" y="215.2" width="96.0" height="96.0" filter="url(#nz)" opacity="0.11"/>
<g fill="none" stroke-linecap="round">
<path d="M311.8,215 C311.4,228 311.8,240 314.0,250 C315.5,256 318.5,260 323.0,263.2" stroke="#ffffff" stroke-width="1.3"/>
<path d="M312.8,215 C312.4,228 313.1,240 315.4,250 C317.1,256 320.3,260 325.0,263.2" stroke="#0c0c0c" stroke-width="1.2"/>
<path d="M313.7,215 C313.3,228 314.4,240 316.9,250 C318.7,256 322.0,260 327.0,263.2" stroke="#f0f0f0" stroke-width="1.0"/>
<path d="M314.7,215 C314.3,228 315.6,240 318.3,250 C320.3,256 323.8,260 329.0,263.2" stroke="#1a1a1a" stroke-width="0.9"/>
<path d="M315.8,215 C315.4,228 317.1,240 319.9,250 C322.1,256 325.8,260 331.2,263.2" stroke="#dedede" stroke-width="0.8"/>
<path d="M316.8,215 C316.4,228 318.5,240 321.6,250 C323.9,256 327.7,260 333.5,263.2" stroke="#2c2c2c" stroke-width="0.7"/>
<path d="M318.1,215 C317.7,228 320.2,240 323.4,250 C326.0,256 330.1,260 336.1,263.2" stroke="#cfcfcf" stroke-width="0.6"/>
<path d="M310,215 L310.3,263" stroke="#e8e8e8" stroke-width="0.8"/>
<path d="M311.4,215 L311.8,263" stroke="#1c1c1c" stroke-width="0.8"/>
<path d="M322,215 C320,222 319,228 320,236" stroke="#d8d8d8" stroke-width="0.6"/>
<path d="M324,215 C322,222 321.5,228 322.5,236" stroke="#333" stroke-width="0.6"/>
<path d="M303.5,293.5 C310,289 318,285 326,281.5 C334,278.5 342,277.4 351,278" stroke="#e4e4e4" stroke-width="0.8"/>
<path d="M303.5,295 C310,290.5 318,286.5 326,283" stroke="#1c1c1c" stroke-width="0.8"/>
<path d="M303.5,296.6 C309,292.5 315,289 321,286.3" stroke="#d0d0d0" stroke-width="0.6"/>
<path d="M330,279.6 L338,277.6 M342,276.8 L349,276.5" stroke="#222" stroke-width="0.7"/>
<path d="M352,287 C360,283 368,280.6 376,280.2 C384,280.4 392,282 399,283.4" stroke="#e0e0e0" stroke-width="0.7"/>
<path d="M357,285.6 L364,283 M379,281.6 L385,282.6 M389,283.4 L395,284" stroke="#1c1c1c" stroke-width="0.8"/>
</g>
</g>
<line x1="327.3" y1="215.2" x2="327.3" y2="311.2" stroke="#2c2c2c" stroke-width="0.45"/>
<line x1="351.2" y1="263.2" x2="351.2" y2="311.2" stroke="#2c2c2c" stroke-width="0.45"/>
<line x1="375.2" y1="263.2" x2="375.2" y2="311.2" stroke="#2c2c2c" stroke-width="0.45"/>
<line x1="303.1" y1="239.1" x2="351.1" y2="239.1" stroke="#2c2c2c" stroke-width="0.45"/>
<line x1="303.1" y1="263.2" x2="399.1" y2="263.2" stroke="#2c2c2c" stroke-width="0.45"/>
<line x1="303.1" y1="287.1" x2="399.1" y2="287.1" stroke="#2c2c2c" stroke-width="0.45"/>
<path d="M303.1,215.2 H351.1 V263.2 H399.1 V311.2 H303.1Z" fill="none" stroke="#444" stroke-width="0.4"/>
<text x="301.6" y="219.5" text-anchor="end" style="font-family:'DejaVu Sans','Liberation Sans',sans-serif;font-size:2.2px" fill="#444">7</text>
<text x="301.6" y="226.1" text-anchor="end" style="font-family:'DejaVu Sans','Liberation Sans',sans-serif;font-size:2.2px" fill="#444">6</text>
<text x="301.6" y="232.7" text-anchor="end" style="font-family:'DejaVu Sans','Liberation Sans',sans-serif;font-size:2.2px" fill="#444">5</text>
<text x="301.6" y="239.3" text-anchor="end" style="font-family:'DejaVu Sans','Liberation Sans',sans-serif;font-size:2.2px" fill="#444">4</text>
<text x="301.6" y="245.9" text-anchor="end" style="font-family:'DejaVu Sans','Liberation Sans',sans-serif;font-size:2.2px" fill="#444">3</text>
<text x="301.6" y="252.5" text-anchor="end" style="font-family:'DejaVu Sans','Liberation Sans',sans-serif;font-size:2.2px" fill="#444">2</text>
<text x="301.6" y="259.1" text-anchor="end" style="font-family:'DejaVu Sans','Liberation Sans',sans-serif;font-size:2.2px" fill="#444">1</text>
<text x="301.6" y="270.0" text-anchor="end" style="font-family:'DejaVu Sans','Liberation Sans',sans-serif;font-size:2.2px" fill="#444">1</text>
<text x="301.6" y="277.2" text-anchor="end" style="font-family:'DejaVu Sans','Liberation Sans',sans-serif;font-size:2.2px" fill="#444">2</text>
<text x="301.6" y="284.4" text-anchor="end" style="font-family:'DejaVu Sans','Liberation Sans',sans-serif;font-size:2.2px" fill="#444">3</text>
<text x="301.6" y="291.6" text-anchor="end" style="font-family:'DejaVu Sans','Liberation Sans',sans-serif;font-size:2.2px" fill="#444">4</text>
<text x="301.6" y="298.8" text-anchor="end" style="font-family:'DejaVu Sans','Liberation Sans',sans-serif;font-size:2.2px" fill="#444">5</text>
<text x="301.6" y="306.0" text-anchor="end" style="font-family:'DejaVu Sans','Liberation Sans',sans-serif;font-size:2.2px" fill="#444">6</text>
<text transform="translate(297.2 239.0) rotate(-90)" text-anchor="middle" style="font-family:'DejaVu Sans','Liberation Sans',sans-serif;font-size:2.2px" fill="#444">xline shot (-)</text>
<text transform="translate(297.2 287.0) rotate(-90)" text-anchor="middle" style="font-family:'DejaVu Sans','Liberation Sans',sans-serif;font-size:2.2px" fill="#444">recordings time (s)</text>
<text x="307.5" y="315.2" text-anchor="middle" style="font-family:'DejaVu Sans','Liberation Sans',sans-serif;font-size:2.2px" fill="#444">7</text>
<text x="314.4" y="315.2" text-anchor="middle" style="font-family:'DejaVu Sans','Liberation Sans',sans-serif;font-size:2.2px" fill="#444">8</text>
<text x="321.2" y="315.2" text-anchor="middle" style="font-family:'DejaVu Sans','Liberation Sans',sans-serif;font-size:2.2px" fill="#444">9</text>
<text x="328.1" y="315.2" text-anchor="middle" style="font-family:'DejaVu Sans','Liberation Sans',sans-serif;font-size:2.2px" fill="#444">4</text>
<text x="334.9" y="315.2" text-anchor="middle" style="font-family:'DejaVu Sans','Liberation Sans',sans-serif;font-size:2.2px" fill="#444">2</text>
<text x="341.8" y="315.2" text-anchor="middle" style="font-family:'DejaVu Sans','Liberation Sans',sans-serif;font-size:2.2px" fill="#444">3</text>
<text x="348.6" y="315.2" text-anchor="middle" style="font-family:'DejaVu Sans','Liberation Sans',sans-serif;font-size:2.2px" fill="#444">4</text>
<text x="355.4" y="315.2" text-anchor="middle" style="font-family:'DejaVu Sans','Liberation Sans',sans-serif;font-size:2.2px" fill="#444">0</text>
<text x="362.3" y="315.2" text-anchor="middle" style="font-family:'DejaVu Sans','Liberation Sans',sans-serif;font-size:2.2px" fill="#444">1</text>
<text x="369.1" y="315.2" text-anchor="middle" style="font-family:'DejaVu Sans','Liberation Sans',sans-serif;font-size:2.2px" fill="#444">2</text>
<text x="376.0" y="315.2" text-anchor="middle" style="font-family:'DejaVu Sans','Liberation Sans',sans-serif;font-size:2.2px" fill="#444">3</text>
<text x="382.9" y="315.2" text-anchor="middle" style="font-family:'DejaVu Sans','Liberation Sans',sans-serif;font-size:2.2px" fill="#444">4</text>
<text x="389.7" y="315.2" text-anchor="middle" style="font-family:'DejaVu Sans','Liberation Sans',sans-serif;font-size:2.2px" fill="#444">5</text>
<text x="396.6" y="315.2" text-anchor="middle" style="font-family:'DejaVu Sans','Liberation Sans',sans-serif;font-size:2.2px" fill="#444">7</text>
<text x="328.2" y="318.3" text-anchor="middle" style="font-family:'DejaVu Sans','Liberation Sans',sans-serif;font-size:2.2px" fill="#444">rec offset (km)</text>
<text x="375.0" y="318.3" text-anchor="middle" style="font-family:'DejaVu Sans','Liberation Sans',sans-serif;font-size:2.2px" fill="#444">xline shot (-)</text>
<clipPath id="vbc"><rect x="447.2" y="53.3" width="90.4" height="92.0"/></clipPath>
<linearGradient id="vbg" x1="0" x2="0" y1="0" y2="1"><stop offset="0.000" stop-color="#000088"/><stop offset="0.082" stop-color="#00008e"/><stop offset="0.103" stop-color="#0000d0"/><stop offset="0.120" stop-color="#0020ff"/><stop offset="0.141" stop-color="#0060ff"/><stop offset="0.163" stop-color="#1088ff"/><stop offset="0.190" stop-color="#28a4ff"/><stop offset="0.239" stop-color="#34b4ff"/><stop offset="0.326" stop-color="#3cc4ff"/><stop offset="0.457" stop-color="#40d8ff"/><stop offset="0.543" stop-color="#30e4ff"/><stop offset="0.630" stop-color="#20e8ff"/><stop offset="0.668" stop-color="#38f4e0"/><stop offset="0.701" stop-color="#80ff90"/><stop offset="0.739" stop-color="#f4f810"/><stop offset="0.766" stop-color="#ffd000"/><stop offset="0.804" stop-color="#ff8c00"/><stop offset="0.848" stop-color="#ff5800"/><stop offset="0.891" stop-color="#ff3000"/><stop offset="0.951" stop-color="#e40000"/><stop offset="0.978" stop-color="#d40000"/><stop offset="1.000" stop-color="#e01000"/></linearGradient>
<g clip-path="url(#vbc)">
<rect x="447.2" y="53.3" width="90.4" height="92.0" fill="url(#vbg)"/>
<path d="M449,68.5 C462,76.5 478,76.5 492,70.0" fill="none" stroke="#0048ff" stroke-width="1.0" opacity="0.55" filter="url(#b05)"/>
<path d="M453,72.5 C464,79.0 477,79.0 488,74.0" fill="none" stroke="#0a60ff" stroke-width="0.9" opacity="0.50" filter="url(#b05)"/>
<path d="M457,77.5 C466,82.6 476,83.2 484.5,79.0" fill="none" stroke="#58e4ff" stroke-width="1.1" opacity="0.85" filter="url(#b05)"/>
<path d="M458,81.5 C466,86.0 476,86.5 484.5,83.0" fill="none" stroke="#48d4ff" stroke-width="0.9" opacity="0.60" filter="url(#b05)"/>
<ellipse cx="469" cy="72.5" rx="15" ry="4.2" fill="#0c68ff" opacity="0.75" filter="url(#b1)"/>
<clipPath id="vbs"><path d="M440.0,69.2 C441.2,62.8 445.2,69.2 447.0,69.4 C448.8,69.6 449.8,69.7 450.7,70.5 C451.6,71.3 451.9,73.0 452.7,74.1 C453.5,75.1 454.6,75.6 455.4,76.8 C456.2,78.0 457.1,80.2 457.4,81.5 C457.7,82.8 456.9,83.6 457.2,84.8 C457.5,86.0 458.6,87.7 459.4,88.9 C460.2,90.1 460.5,91.6 462.1,92.2 C463.7,92.8 467.5,92.1 468.8,92.6 C470.1,93.1 469.1,94.5 469.8,95.2 C470.5,95.9 471.6,96.2 472.9,96.5 C474.2,96.8 476.3,96.4 477.6,96.9 C478.9,97.4 479.9,99.3 480.9,99.6 C481.9,99.9 483.0,99.6 483.6,98.9 C484.2,98.2 484.1,97.0 484.3,95.6 C484.5,94.1 484.8,91.9 484.7,90.2 C484.6,88.5 483.9,87.2 483.6,85.5 C483.3,83.8 482.6,81.4 482.9,80.1 C483.2,78.8 484.5,78.3 485.6,77.4 C486.7,76.5 488.2,75.5 489.6,74.8 C491.0,74.1 492.1,73.4 493.7,73.2 C495.3,73.0 497.5,73.8 499.2,73.8 C500.9,73.8 502.1,73.2 504.0,73.4 C505.9,73.6 508.6,74.4 510.6,74.7 C512.6,75.0 514.1,74.9 516.0,75.2 C517.9,75.5 520.3,76.6 522.0,76.6 C523.7,76.6 524.7,75.6 526.0,75.4 C527.3,75.2 528.5,75.8 529.7,75.7 C530.9,75.6 531.6,74.9 533.0,74.8 C534.4,74.7 535.9,75.2 537.9,75.3 C539.9,75.4 543.8,68.8 545.0,75.3 C546.2,81.8 546.2,108.0 545.0,114.5 C543.8,121.0 539.5,114.7 537.9,114.5 C536.3,114.3 537.7,113.3 535.4,113.1 C533.1,112.9 526.7,113.3 524.0,113.5 C521.3,113.7 520.3,114.2 519.2,114.1 C518.1,113.9 520.0,113.0 517.3,112.6 C514.6,112.1 507.9,111.5 503.0,111.4 C498.1,111.3 493.8,111.9 487.7,111.8 C481.6,111.7 470.8,111.1 466.7,110.7 C462.6,110.3 466.1,109.8 462.9,109.3 C459.7,108.8 451.1,108.2 447.3,108.0 C443.5,107.8 441.2,114.5 440.0,108.0 C438.8,101.5 438.8,75.6 440.0,69.2Z"/></clipPath>
<path d="M440.0,69.2 C441.2,62.8 445.2,69.2 447.0,69.4 C448.8,69.6 449.8,69.7 450.7,70.5 C451.6,71.3 451.9,73.0 452.7,74.1 C453.5,75.1 454.6,75.6 455.4,76.8 C456.2,78.0 457.1,80.2 457.4,81.5 C457.7,82.8 456.9,83.6 457.2,84.8 C457.5,86.0 458.6,87.7 459.4,88.9 C460.2,90.1 460.5,91.6 462.1,92.2 C463.7,92.8 467.5,92.1 468.8,92.6 C470.1,93.1 469.1,94.5 469.8,95.2 C470.5,95.9 471.6,96.2 472.9,96.5 C474.2,96.8 476.3,96.4 477.6,96.9 C478.9,97.4 479.9,99.3 480.9,99.6 C481.9,99.9 483.0,99.6 483.6,98.9 C484.2,98.2 484.1,97.0 484.3,95.6 C484.5,94.1 484.8,91.9 484.7,90.2 C484.6,88.5 483.9,87.2 483.6,85.5 C483.3,83.8 482.6,81.4 482.9,80.1 C483.2,78.8 484.5,78.3 485.6,77.4 C486.7,76.5 488.2,75.5 489.6,74.8 C491.0,74.1 492.1,73.4 493.7,73.2 C495.3,73.0 497.5,73.8 499.2,73.8 C500.9,73.8 502.1,73.2 504.0,73.4 C505.9,73.6 508.6,74.4 510.6,74.7 C512.6,75.0 514.1,74.9 516.0,75.2 C517.9,75.5 520.3,76.6 522.0,76.6 C523.7,76.6 524.7,75.6 526.0,75.4 C527.3,75.2 528.5,75.8 529.7,75.7 C530.9,75.6 531.6,74.9 533.0,74.8 C534.4,74.7 535.9,75.2 537.9,75.3 C539.9,75.4 543.8,68.8 545.0,75.3 C546.2,81.8 546.2,108.0 545.0,114.5 C543.8,121.0 539.5,114.7 537.9,114.5 C536.3,114.3 537.7,113.3 535.4,113.1 C533.1,112.9 526.7,113.3 524.0,113.5 C521.3,113.7 520.3,114.2 519.2,114.1 C518.1,113.9 520.0,113.0 517.3,112.6 C514.6,112.1 507.9,111.5 503.0,111.4 C498.1,111.3 493.8,111.9 487.7,111.8 C481.6,111.7 470.8,111.1 466.7,110.7 C462.6,110.3 466.1,109.8 462.9,109.3 C459.7,108.8 451.1,108.2 447.3,108.0 C443.5,107.8 441.2,114.5 440.0,108.0 C438.8,101.5 438.8,75.6 440.0,69.2Z" fill="#a20000" stroke="#ff3a10" stroke-width="0.9"/>
<g clip-path="url(#vbs)">
<path d="M456.5,88.0 L460,93.0 L463.5,95.6 L470,97.6 L476,99.6 L481.5,102.2 L485.5,100.0" fill="none" stroke="#ff3414" stroke-width="2.6" opacity="0.85" filter="url(#b1)"/>
<ellipse cx="464.0" cy="96.5" rx="2.6" ry="1.2" fill="#ff5020" opacity="0.90" filter="url(#b1)"/>
<ellipse cx="472.0" cy="100.2" rx="2.4" ry="1.2" fill="#ff4a20" opacity="0.90" filter="url(#b1)"/>
<ellipse cx="484.6" cy="103.0" rx="1.2" ry="2.2" fill="#ff4018" opacity="0.90" filter="url(#b1)"/>
<ellipse cx="500.0" cy="96.0" rx="4.0" ry="2.5" fill="#c01010" opacity="0.60" filter="url(#b1)"/>
<ellipse cx="520.0" cy="92.0" rx="5.0" ry="3.0" fill="#b80808" opacity="0.60" filter="url(#b1)"/>
<ellipse cx="453.0" cy="100.0" rx="3.0" ry="2.5" fill="#c41010" opacity="0.60" filter="url(#b1)"/>
<ellipse cx="510.0" cy="104.0" rx="6.0" ry="2.0" fill="#b40808" opacity="0.50" filter="url(#b1)"/>
</g>
<ellipse cx="491.7" cy="84.4" rx="0.9" ry="1.2" fill="#ffd820" filter="url(#b05)"/>
<ellipse cx="510" cy="143.0" rx="22" ry="4" fill="#ff2808" opacity="0.6" filter="url(#b2)"/>
<ellipse cx="470" cy="140.0" rx="14" ry="3" fill="#c80000" opacity="0.6" filter="url(#b2)"/>
</g>
<rect x="447.2" y="53.3" width="90.4" height="92.0" fill="none" stroke="#555" stroke-width="0.4"/>
<line x1="446.0" y1="53.3" x2="447.2" y2="53.3" stroke="#444" stroke-width="0.35"/>
<text x="445.0" y="54.5" text-anchor="end" style="font-family:'DejaVu Sans','Liberation Sans',sans-serif;font-size:3.5px" fill="#000" stroke="#000" stroke-width="0.12">0</text>
<line x1="446.0" y1="68.6" x2="447.2" y2="68.6" stroke="#444" stroke-width="0.35"/>
<text x="445.0" y="69.8" text-anchor="end" style="font-family:'DejaVu Sans','Liberation Sans',sans-serif;font-size:3.5px" fill="#000" stroke="#000" stroke-width="0.12">2</text>
<line x1="446.0" y1="83.9" x2="447.2" y2="83.9" stroke="#444" stroke-width="0.35"/>
<text x="445.0" y="85.1" text-anchor="end" style="font-family:'DejaVu Sans','Liberation Sans',sans-serif;font-size:3.5px" fill="#000" stroke="#000" stroke-width="0.12">4</text>
<line x1="446.0" y1="99.2" x2="447.2" y2="99.2" stroke="#444" stroke-width="0.35"/>
<text x="445.0" y="100.4" text-anchor="end" style="font-family:'DejaVu Sans','Liberation Sans',sans-serif;font-size:3.5px" fill="#000" stroke="#000" stroke-width="0.12">6</text>
<line x1="446.0" y1="114.5" x2="447.2" y2="114.5" stroke="#444" stroke-width="0.35"/>
<text x="445.0" y="115.7" text-anchor="end" style="font-family:'DejaVu Sans','Liberation Sans',sans-serif;font-size:3.5px" fill="#000" stroke="#000" stroke-width="0.12">8</text>
<line x1="446.0" y1="129.8" x2="447.2" y2="129.8" stroke="#444" stroke-width="0.35"/>
<text x="445.0" y="131.0" text-anchor="end" style="font-family:'DejaVu Sans','Liberation Sans',sans-serif;font-size:3.5px" fill="#000" stroke="#000" stroke-width="0.12">10</text>
<line x1="446.0" y1="145.1" x2="447.2" y2="145.1" stroke="#444" stroke-width="0.35"/>
<text x="445.0" y="146.3" text-anchor="end" style="font-family:'DejaVu Sans','Liberation Sans',sans-serif;font-size:3.5px" fill="#000" stroke="#000" stroke-width="0.12">12</text>
<line x1="447.2" y1="145.3" x2="447.2" y2="146.5" stroke="#444" stroke-width="0.35"/>
<text x="447.2" y="151.6" text-anchor="middle" style="font-family:'DejaVu Sans','Liberation Sans',sans-serif;font-size:4.1px" fill="#000" stroke="#000" stroke-width="0.12">0.0</text>
<line x1="460.5" y1="145.3" x2="460.5" y2="146.5" stroke="#444" stroke-width="0.35"/>
<text x="460.5" y="151.6" text-anchor="middle" style="font-family:'DejaVu Sans','Liberation Sans',sans-serif;font-size:4.1px" fill="#000" stroke="#000" stroke-width="0.12">2.5</text>
<line x1="473.8" y1="145.3" x2="473.8" y2="146.5" stroke="#444" stroke-width="0.35"/>
<text x="473.8" y="151.6" text-anchor="middle" style="font-family:'DejaVu Sans','Liberation Sans',sans-serif;font-size:4.1px" fill="#000" stroke="#000" stroke-width="0.12">5.0</text>
<line x1="487.1" y1="145.3" x2="487.1" y2="146.5" stroke="#444" stroke-width="0.35"/>
<text x="487.1" y="151.6" text-anchor="middle" style="font-family:'DejaVu Sans','Liberation Sans',sans-serif;font-size:4.1px" fill="#000" stroke="#000" stroke-width="0.12">7.5</text>
<line x1="500.4" y1="145.3" x2="500.4" y2="146.5" stroke="#444" stroke-width="0.35"/>
<text x="500.4" y="151.6" text-anchor="middle" style="font-family:'DejaVu Sans','Liberation Sans',sans-serif;font-size:4.1px" fill="#000" stroke="#000" stroke-width="0.12">10.0</text>
<line x1="513.7" y1="145.3" x2="513.7" y2="146.5" stroke="#444" stroke-width="0.35"/>
<text x="513.7" y="151.6" text-anchor="middle" style="font-family:'DejaVu Sans','Liberation Sans',sans-serif;font-size:4.1px" fill="#000" stroke="#000" stroke-width="0.12">12.5</text>
<line x1="527.0" y1="145.3" x2="527.0" y2="146.5" stroke="#444" stroke-width="0.35"/>
<text x="527.0" y="151.6" text-anchor="middle" style="font-family:'DejaVu Sans','Liberation Sans',sans-serif;font-size:4.1px" fill="#000" stroke="#000" stroke-width="0.12">15.0</text>
<text x="491.8" y="157.5" text-anchor="middle" style="font-family:'DejaVu Sans','Liberation Sans',sans-serif;font-size:4.1px" fill="#000" stroke="#000" stroke-width="0.12">relative x (km)</text>
<text transform="translate(436.0 100.3) rotate(-90)" text-anchor="middle" style="font-family:'DejaVu Sans','Liberation Sans',sans-serif;font-size:3.5px" fill="#000" stroke="#000" stroke-width="0.12">depth (km)</text>
<clipPath id="vcc"><rect x="447.0" y="218.4" width="90.6" height="92.0"/></clipPath>
<linearGradient id="vcg" x1="0" x2="0" y1="0" y2="1"><stop offset="0.000" stop-color="#000088"/><stop offset="0.082" stop-color="#00008e"/><stop offset="0.103" stop-color="#0000d0"/><stop offset="0.120" stop-color="#0020ff"/><stop offset="0.141" stop-color="#0060ff"/><stop offset="0.163" stop-color="#1088ff"/><stop offset="0.190" stop-color="#28a4ff"/><stop offset="0.239" stop-color="#34b4ff"/><stop offset="0.326" stop-color="#3cc4ff"/><stop offset="0.457" stop-color="#40d8ff"/><stop offset="0.543" stop-color="#30e4ff"/><stop offset="0.630" stop-color="#20e8ff"/><stop offset="0.668" stop-color="#38f4e0"/><stop offset="0.701" stop-color="#80ff90"/><stop offset="0.739" stop-color="#f4f810"/><stop offset="0.766" stop-color="#ffd000"/><stop offset="0.804" stop-color="#ff8c00"/><stop offset="0.848" stop-color="#ff5800"/><stop offset="0.891" stop-color="#ff3000"/><stop offset="0.951" stop-color="#e40000"/><stop offset="0.978" stop-color="#d40000"/><stop offset="1.000" stop-color="#e01000"/></linearGradient>
<g clip-path="url(#vcc)">
<rect x="447.0" y="218.4" width="90.6" height="92.0" fill="url(#vcg)"/>
<path d="M449,233.6 C462,241.6 478,241.6 492,235.1" fill="none" stroke="#0048ff" stroke-width="1.0" opacity="0.55" filter="url(#b05)"/>
<path d="M453,237.6 C464,244.1 477,244.1 488,239.1" fill="none" stroke="#0a60ff" stroke-width="0.9" opacity="0.50" filter="url(#b05)"/>
<path d="M457,242.6 C466,247.7 476,248.3 484.5,244.1" fill="none" stroke="#58e4ff" stroke-width="1.1" opacity="0.85" filter="url(#b05)"/>
<path d="M458,246.6 C466,251.1 476,251.6 484.5,248.1" fill="none" stroke="#48d4ff" stroke-width="0.9" opacity="0.60" filter="url(#b05)"/>
<ellipse cx="469" cy="237.6" rx="15" ry="4.2" fill="#0c68ff" opacity="0.75" filter="url(#b1)"/>
<clipPath id="vcs"><path d="M440.0,234.3 C441.2,227.9 445.2,234.3 447.0,234.5 C448.8,234.7 449.8,234.8 450.7,235.6 C451.6,236.4 451.9,238.2 452.7,239.2 C453.5,240.3 454.6,240.7 455.4,241.9 C456.2,243.1 457.1,245.3 457.4,246.6 C457.7,247.9 456.9,248.7 457.2,249.9 C457.5,251.1 458.6,252.8 459.4,254.0 C460.2,255.2 460.5,256.7 462.1,257.3 C463.7,257.9 467.5,257.2 468.8,257.7 C470.1,258.2 469.1,259.7 469.8,260.3 C470.5,260.9 471.6,261.3 472.9,261.6 C474.2,261.9 476.3,261.5 477.6,262.0 C478.9,262.5 479.9,264.4 480.9,264.7 C481.9,265.0 483.0,264.7 483.6,264.0 C484.2,263.3 484.1,262.2 484.3,260.7 C484.5,259.3 484.8,257.0 484.7,255.3 C484.6,253.6 483.9,252.3 483.6,250.6 C483.3,248.9 482.6,246.6 482.9,245.2 C483.2,243.9 484.5,243.4 485.6,242.5 C486.7,241.6 488.2,240.6 489.6,239.9 C491.0,239.2 492.1,238.5 493.7,238.3 C495.3,238.1 497.5,238.9 499.2,238.9 C500.9,238.9 502.1,238.4 504.0,238.5 C505.9,238.7 508.6,239.5 510.6,239.8 C512.6,240.1 514.1,240.0 516.0,240.3 C517.9,240.6 520.3,241.7 522.0,241.7 C523.7,241.7 524.7,240.7 526.0,240.5 C527.3,240.4 528.5,240.9 529.7,240.8 C530.9,240.7 531.6,240.0 533.0,239.9 C534.4,239.8 535.9,240.3 537.9,240.4 C539.9,240.5 543.8,233.9 545.0,240.4 C546.2,246.9 546.2,273.1 545.0,279.6 C543.8,286.1 539.5,279.8 537.9,279.6 C536.3,279.4 537.7,278.4 535.4,278.2 C533.1,278.0 526.7,278.4 524.0,278.6 C521.3,278.8 520.3,279.4 519.2,279.2 C518.1,279.1 520.0,278.2 517.3,277.7 C514.6,277.3 507.9,276.6 503.0,276.5 C498.1,276.4 493.8,277.0 487.7,276.9 C481.6,276.8 470.8,276.2 466.7,275.8 C462.6,275.4 466.1,274.9 462.9,274.4 C459.7,274.0 451.1,273.3 447.3,273.1 C443.5,272.9 441.2,279.6 440.0,273.1 C438.8,266.6 438.8,240.7 440.0,234.3Z"/></clipPath>
<path d="M440.0,234.3 C441.2,227.9 445.2,234.3 447.0,234.5 C448.8,234.7 449.8,234.8 450.7,235.6 C451.6,236.4 451.9,238.2 452.7,239.2 C453.5,240.3 454.6,240.7 455.4,241.9 C456.2,243.1 457.1,245.3 457.4,246.6 C457.7,247.9 456.9,248.7 457.2,249.9 C457.5,251.1 458.6,252.8 459.4,254.0 C460.2,255.2 460.5,256.7 462.1,257.3 C463.7,257.9 467.5,257.2 468.8,257.7 C470.1,258.2 469.1,259.7 469.8,260.3 C470.5,260.9 471.6,261.3 472.9,261.6 C474.2,261.9 476.3,261.5 477.6,262.0 C478.9,262.5 479.9,264.4 480.9,264.7 C481.9,265.0 483.0,264.7 483.6,264.0 C484.2,263.3 484.1,262.2 484.3,260.7 C484.5,259.3 484.8,257.0 484.7,255.3 C484.6,253.6 483.9,252.3 483.6,250.6 C483.3,248.9 482.6,246.6 482.9,245.2 C483.2,243.9 484.5,243.4 485.6,242.5 C486.7,241.6 488.2,240.6 489.6,239.9 C491.0,239.2 492.1,238.5 493.7,238.3 C495.3,238.1 497.5,238.9 499.2,238.9 C500.9,238.9 502.1,238.4 504.0,238.5 C505.9,238.7 508.6,239.5 510.6,239.8 C512.6,240.1 514.1,240.0 516.0,240.3 C517.9,240.6 520.3,241.7 522.0,241.7 C523.7,241.7 524.7,240.7 526.0,240.5 C527.3,240.4 528.5,240.9 529.7,240.8 C530.9,240.7 531.6,240.0 533.0,239.9 C534.4,239.8 535.9,240.3 537.9,240.4 C539.9,240.5 543.8,233.9 545.0,240.4 C546.2,246.9 546.2,273.1 545.0,279.6 C543.8,286.1 539.5,279.8 537.9,279.6 C536.3,279.4 537.7,278.4 535.4,278.2 C533.1,278.0 526.7,278.4 524.0,278.6 C521.3,278.8 520.3,279.4 519.2,279.2 C518.1,279.1 520.0,278.2 517.3,277.7 C514.6,277.3 507.9,276.6 503.0,276.5 C498.1,276.4 493.8,277.0 487.7,276.9 C481.6,276.8 470.8,276.2 466.7,275.8 C462.6,275.4 466.1,274.9 462.9,274.4 C459.7,274.0 451.1,273.3 447.3,273.1 C443.5,272.9 441.2,279.6 440.0,273.1 C438.8,266.6 438.8,240.7 440.0,234.3Z" fill="#a20000" stroke="#ff3a10" stroke-width="0.9"/>
<g clip-path="url(#vcs)">
<path d="M456.5,253.1 L460,258.1 L463.5,260.7 L470,262.7 L476,264.7 L481.5,267.3 L485.5,265.1" fill="none" stroke="#ff3414" stroke-width="2.6" opacity="0.85" filter="url(#b1)"/>
<ellipse cx="464.0" cy="261.6" rx="2.6" ry="1.2" fill="#ff5020" opacity="0.90" filter="url(#b1)"/>
<ellipse cx="472.0" cy="265.3" rx="2.4" ry="1.2" fill="#ff4a20" opacity="0.90" filter="url(#b1)"/>
<ellipse cx="484.6" cy="268.1" rx="1.2" ry="2.2" fill="#ff4018" opacity="0.90" filter="url(#b1)"/>
<ellipse cx="500.0" cy="261.1" rx="4.0" ry="2.5" fill="#c01010" opacity="0.60" filter="url(#b1)"/>
<ellipse cx="520.0" cy="257.1" rx="5.0" ry="3.0" fill="#b80808" opacity="0.60" filter="url(#b1)"/>
<ellipse cx="453.0" cy="265.1" rx="3.0" ry="2.5" fill="#c41010" opacity="0.60" filter="url(#b1)"/>
<ellipse cx="510.0" cy="269.1" rx="6.0" ry="2.0" fill="#b40808" opacity="0.50" filter="url(#b1)"/>
</g>
<ellipse cx="491.7" cy="249.5" rx="0.9" ry="1.2" fill="#ffd820" filter="url(#b05)"/>
<ellipse cx="510" cy="308.1" rx="22" ry="4" fill="#ff2808" opacity="0.6" filter="url(#b2)"/>
<ellipse cx="470" cy="305.1" rx="14" ry="3" fill="#c80000" opacity="0.6" filter="url(#b2)"/>
</g>
<rect x="447.0" y="218.4" width="90.6" height="92.0" fill="none" stroke="#555" stroke-width="0.4"/>
<line x1="445.8" y1="218.4" x2="447.0" y2="218.4" stroke="#444" stroke-width="0.35"/>
<text x="444.8" y="219.6" text-anchor="end" style="font-family:'DejaVu Sans','Liberation Sans',sans-serif;font-size:3.5px" fill="#000" stroke="#000" stroke-width="0.12">0</text>
<line x1="445.8" y1="233.7" x2="447.0" y2="233.7" stroke="#444" stroke-width="0.35"/>
<text x="444.8" y="234.9" text-anchor="end" style="font-family:'DejaVu Sans','Liberation Sans',sans-serif;font-size:3.5px" fill="#000" stroke="#000" stroke-width="0.12">2</text>
<line x1="445.8" y1="249.0" x2="447.0" y2="249.0" stroke="#444" stroke-width="0.35"/>
<text x="444.8" y="250.2" text-anchor="end" style="font-family:'DejaVu Sans','Liberation Sans',sans-serif;font-size:3.5px" fill="#000" stroke="#000" stroke-width="0.12">4</text>
<line x1="445.8" y1="264.3" x2="447.0" y2="264.3" stroke="#444" stroke-width="0.35"/>
<text x="444.8" y="265.5" text-anchor="end" style="font-family:'DejaVu Sans','Liberation Sans',sans-serif;font-size:3.5px" fill="#000" stroke="#000" stroke-width="0.12">6</text>
<line x1="445.8" y1="279.6" x2="447.0" y2="279.6" stroke="#444" stroke-width="0.35"/>
<text x="444.8" y="280.8" text-anchor="end" style="font-family:'DejaVu Sans','Liberation Sans',sans-serif;font-size:3.5px" fill="#000" stroke="#000" stroke-width="0.12">8</text>
<line x1="445.8" y1="294.9" x2="447.0" y2="294.9" stroke="#444" stroke-width="0.35"/>
<text x="444.8" y="296.1" text-anchor="end" style="font-family:'DejaVu Sans','Liberation Sans',sans-serif;font-size:3.5px" fill="#000" stroke="#000" stroke-width="0.12">10</text>
<line x1="445.8" y1="310.2" x2="447.0" y2="310.2" stroke="#444" stroke-width="0.35"/>
<text x="444.8" y="311.4" text-anchor="end" style="font-family:'DejaVu Sans','Liberation Sans',sans-serif;font-size:3.5px" fill="#000" stroke="#000" stroke-width="0.12">12</text>
<line x1="447.0" y1="310.4" x2="447.0" y2="311.6" stroke="#444" stroke-width="0.35"/>
<text x="447.0" y="316.7" text-anchor="middle" style="font-family:'DejaVu Sans','Liberation Sans',sans-serif;font-size:4.1px" fill="#000" stroke="#000" stroke-width="0.12">0.0</text>
<line x1="460.3" y1="310.4" x2="460.3" y2="311.6" stroke="#444" stroke-width="0.35"/>
<text x="460.3" y="316.7" text-anchor="middle" style="font-family:'DejaVu Sans','Liberation Sans',sans-serif;font-size:4.1px" fill="#000" stroke="#000" stroke-width="0.12">2.5</text>
<line x1="473.6" y1="310.4" x2="473.6" y2="311.6" stroke="#444" stroke-width="0.35"/>
<text x="473.6" y="316.7" text-anchor="middle" style="font-family:'DejaVu Sans','Liberation Sans',sans-serif;font-size:4.1px" fill="#000" stroke="#000" stroke-width="0.12">5.0</text>
<line x1="486.9" y1="310.4" x2="486.9" y2="311.6" stroke="#444" stroke-width="0.35"/>
<text x="486.9" y="316.7" text-anchor="middle" style="font-family:'DejaVu Sans','Liberation Sans',sans-serif;font-size:4.1px" fill="#000" stroke="#000" stroke-width="0.12">7.5</text>
<line x1="500.2" y1="310.4" x2="500.2" y2="311.6" stroke="#444" stroke-width="0.35"/>
<text x="500.2" y="316.7" text-anchor="middle" style="font-family:'DejaVu Sans','Liberation Sans',sans-serif;font-size:4.1px" fill="#000" stroke="#000" stroke-width="0.12">10.0</text>
<line x1="513.5" y1="310.4" x2="513.5" y2="311.6" stroke="#444" stroke-width="0.35"/>
<text x="513.5" y="316.7" text-anchor="middle" style="font-family:'DejaVu Sans','Liberation Sans',sans-serif;font-size:4.1px" fill="#000" stroke="#000" stroke-width="0.12">12.5</text>
<line x1="526.8" y1="310.4" x2="526.8" y2="311.6" stroke="#444" stroke-width="0.35"/>
<text x="526.8" y="316.7" text-anchor="middle" style="font-family:'DejaVu Sans','Liberation Sans',sans-serif;font-size:4.1px" fill="#000" stroke="#000" stroke-width="0.12">15.0</text>
<text x="491.8" y="322.6" text-anchor="middle" style="font-family:'DejaVu Sans','Liberation Sans',sans-serif;font-size:4.1px" fill="#000" stroke="#000" stroke-width="0.12">relative x (km)</text>
<text transform="translate(436.0 265.4) rotate(-90)" text-anchor="middle" style="font-family:'DejaVu Sans','Liberation Sans',sans-serif;font-size:3.5px" fill="#000" stroke="#000" stroke-width="0.12">depth (km)</text>
<path d="M374.4,239.2 L394,219.7 V228.9 H426.6 V249.4 H394 V259.6 Z" fill="#fbe3c4" stroke="#2f529f" stroke-width="1.1" stroke-linejoin="miter"/>
<text x="391.6" y="245.3" style="font-family:'Liberation Serif',serif;font-size:14px;font-style:italic" fill="#1a1a1a" stroke="#1a1a1a" stroke-width="0.2">f</text>
<text x="392.2" y="236.2" style="font-family:'Liberation Serif',serif;font-size:9px" fill="#1a1a1a">~</text>
<text x="398.2" y="245" style="font-family:'Liberation Serif',serif;font-size:14px" fill="#1a1a1a">(</text>
<text x="402.2" y="245.3" style="font-family:'Liberation Serif',serif;font-size:14px;font-style:italic" fill="#1a1a1a" stroke="#1a1a1a" stroke-width="0.2">x</text>
<text x="402.9" y="245.0" style="font-family:'Liberation Serif',serif;font-size:14px;font-style:italic" fill="#1a1a1a" stroke="#1a1a1a" stroke-width="0.2">ˉ</text>
<text x="409.4" y="248" style="font-family:'Liberation Serif',serif;font-size:9.5px;font-style:italic" fill="#1a1a1a">i</text>
<text x="413.6" y="245" style="font-family:'Liberation Serif',serif;font-size:14px" fill="#1a1a1a">)</text>
</svg>
</body></html>
